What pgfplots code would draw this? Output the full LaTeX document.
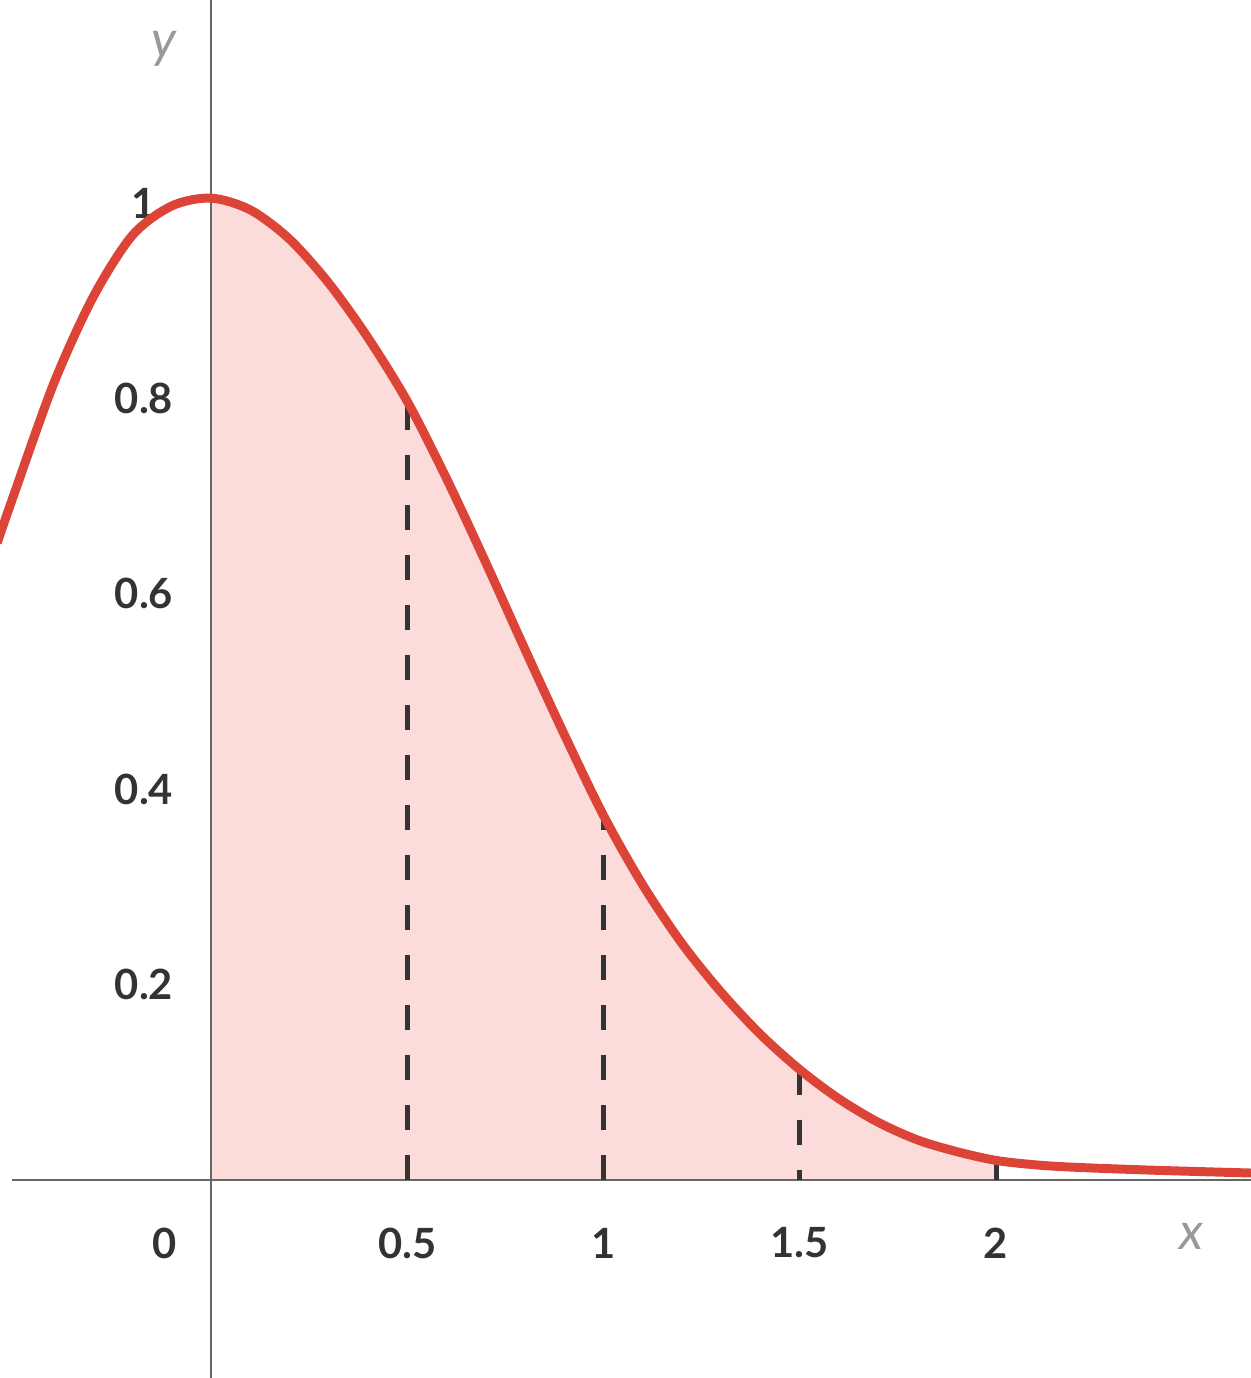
\documentclass[border=0pt]{standalone}
\usepackage{fontspec}
\setmainfont{Lato}
\newfontfamily\namefont{Lato}
\usepackage{pgfplots}
\pgfplotsset{compat=1.18}
\usepgfplotslibrary{fillbetween}
\definecolor{curvered}{RGB}{221,68,56}
\definecolor{fillpink}{RGB}{252,219,219}
\definecolor{labeldark}{RGB}{51,51,51}
\definecolor{axisgray}{RGB}{102,102,102}
\definecolor{namegray}{RGB}{153,153,153}
\pgfplotstableread{
x y
-0.545 0.652
-0.5 0.704
-0.4 0.816
-0.3 0.904
-0.2 0.967
-0.1 0.997
0 1.005
0.1 0.993
0.2 0.963
0.3 0.918
0.4 0.862
0.5 0.797
0.6 0.718
0.7 0.632
0.8 0.543
0.9 0.456
1.0 0.373
1.1 0.302
1.2 0.242
1.3 0.192
1.4 0.149
1.5 0.113
1.6 0.083
1.7 0.059
1.8 0.041
1.9 0.029
2.0 0.020
2.1 0.0155
2.2 0.0130
2.4 0.0100
2.66 0.0070
}\curvedata
\begin{document}
\begin{tikzpicture}
\begin{axis}[
  scale only axis,
  width=363.14pt, height=400pt,
  xmin=-0.5376, xmax=2.6497,
  ymin=-0.2027, ymax=1.2078,
  axis lines=middle,
  axis line style={draw=none},
  major tick length=0pt,
  xtick={0.5,1,1.5,2},
  xticklabels={0.5,1,1.5,2},
  ytick={0.2,0.4,0.6,0.8,1},
  yticklabels={0.2,0.4,0.6,0.8,1},
  /pgf/number format/assume math mode=true,
  tick label style={font=\bfseries\fontsize{12.1}{14}\selectfont, text=labeldark},
  xticklabel style={anchor=center, yshift=-18.29pt},
  yticklabel style={anchor=center, xshift=-19.45pt},
  clip=true,
]
\addplot[draw=none, name path=curve, smooth] table[x=x,y=y] {\curvedata};
\addplot[draw=none, name path=base] coordinates {(-0.6,0) (2.7,0)};
\addplot[fill=fillpink, draw=none] fill between[of=curve and base, soft clip={domain=0:2}];
% axis lines
\draw[axisgray, line width=0.62pt] (axis cs:0,-0.25) -- (axis cs:0,1.25);
\draw[axisgray, line width=0.62pt] (axis cs:-0.507,0) -- (axis cs:2.7,0);
% dashed verticals
\addplot[labeldark, line width=1.45pt, dash pattern=on 7.26pt off 7.26pt] coordinates {(0.5,0) (0.5,0.795)};
\addplot[labeldark, line width=1.45pt, dash pattern=on 7.26pt off 7.26pt] coordinates {(1,0) (1,0.372)};
\addplot[labeldark, line width=1.45pt, dash pattern=on 7.26pt off 7.26pt] coordinates {(1.5,0.113) (1.5,0)};
\addplot[labeldark, line width=1.45pt] coordinates {(2,0) (2,0.02)};
% curve
\addplot[curvered, line width=2.6pt, smooth] table[x=x,y=y] {\curvedata};
\node[font=\bfseries\fontsize{12.1}{14}\selectfont, text=labeldark, anchor=center] at (axis cs:-0.117,-0.0645) {0};
\node[font=\namefont\itshape\fontsize{15}{18}\selectfont, text=namegray, anchor=center] at (axis cs:2.499,-0.058) {x};
\node[font=\namefont\itshape\fontsize{15}{18}\selectfont, text=namegray, anchor=center] at (axis cs:-0.120,1.158) {y};
\end{axis}
\pgfresetboundingbox
\path[use as bounding box] (current axis.south west) rectangle (current axis.north east);
\end{tikzpicture}
\end{document}
